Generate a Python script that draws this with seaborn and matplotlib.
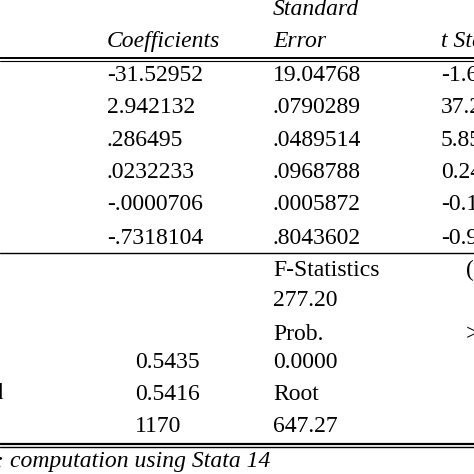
import matplotlib
matplotlib.use("Agg")
import matplotlib.pyplot as plt
import seaborn as sns

# table contents (regression output, cropped)
coefs = ["-31.52952", "2.942132", ".286495", ".0232233", "-.0000706", "-.7318104"]
std_errs = ["19.04768", ".0790289", ".0489514", ".0968788", ".0005872", ".8043602"]
t_stats = ["-1.655", "37.23", "5.853", "0.240", "-0.120", "-0.910"]
fit_col1 = ["", "", "", "0.5435", "0.5416", "1170"]
fit_col2 = ["F-Statistics", "277.20", "Prob.", "0.0000", "Root", "647.27"]
fit_col3 = ["(5, 1164)", "", "> F", "", "", ""]
fit_labels = ["", "", "", "", "Adjusted", ""]

sns.set_theme(style="white")
plt.rcParams['font.family'] = ['Liberation Serif', 'DejaVu Serif']

fig = plt.figure(figsize=(4.74, 4.74), dpi=100)
ax = fig.add_axes([0, 0, 1, 1])
ax.set_xlim(0, 474)
ax.set_ylim(474, 0)
ax.axis("off")

fs = 17
kw = dict(fontsize=fs, va="center", color="black", clip_on=True)

ax.text(273, 9, "Standard", style="italic", ha="left", **kw)
ax.text(107, 41, "Coefficients", style="italic", ha="left", **kw)
ax.text(273, 41, "Error", style="italic", ha="left", **kw)
ax.text(441, 41, "t Statistics", style="italic", ha="left", **kw)
ax.axhline(58, color="black", lw=1.4)
ax.axhline(60.5, color="black", lw=0.8)

top_rows = [75, 107, 140, 172, 205, 238]
for y, c, s, t in zip(top_rows, coefs, std_errs, t_stats):
    ax.text(107, y, c, ha="left", **kw)
    ax.text(273, y, s, ha="left", **kw)
    ax.text(441, y, t, ha="left", **kw)

ax.axhline(253, color="black", lw=1.0)

bot_rows = [270, 301, 334, 363, 394, 426]
for y, lab, a, b, c in zip(bot_rows, fit_labels, fit_col1, fit_col2, fit_col3):
    ax.text(4, y, lab, ha="right", **kw)
    ax.text(135, y, a, ha="left", **kw)
    ax.text(273, y, b, ha="left", **kw)
    ax.text(466, y, c, ha="left", **kw)

ax.axhline(444, color="black", lw=1.6)
ax.axhline(447, color="black", lw=1.0)

ax.text(5, 462, "Source:", style="italic", ha="right", **kw)
ax.text(10, 462, "computation using Stata 14", style="italic", ha="left", **kw)

fig.savefig("out.png", dpi=100, facecolor="white")
